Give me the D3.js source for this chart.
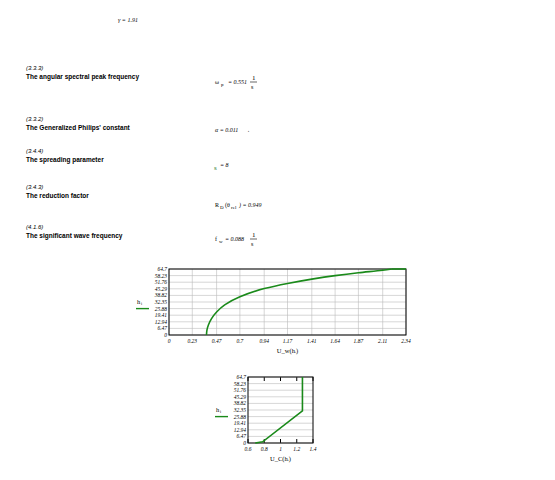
<!DOCTYPE html><html><head><meta charset="utf-8"><script src="https://cdn.jsdelivr.net/npm/d3@7"></script>
<style>body{margin:0;background:#fff}</style></head><body><svg id="s" width="555" height="480"></svg>
<script>
const yTicks=[0,6.47,12.94,19.41,25.88,32.35,38.82,45.29,51.76,58.23,64.7];
const x1Ticks=[0,0.23,0.47,0.7,0.94,1.17,1.41,1.64,1.87,2.11,2.34];
const curve1U=[0.37,0.375,0.39,0.42,0.47,0.55,0.7,0.94,1.17,1.41,1.64,1.87,2.11,2.2,2.34];
const curve1H=[0,5,10,16,22.5,29.5,37.5,45.5,50.5,54.8,58.2,61,63.5,64.7,64.7];
const x2Ticks=[0.6,0.8,1,1.2,1.4];
const x2Labels=["0.6","0.8","1","1.2","1.4"];
const curve2U=[0.69,0.78,1.27,1.27];
const curve2H=[0,1.2,31.5,64.7];
const svg=d3.select("#s");
const serif="Liberation Serif,serif", sans="Liberation Sans,Arial,sans-serif";
function t(x,y,s,o){const e=svg.append("text").attr("x",x).attr("y",y).text(s).attr("font-family",o&&o.f||serif).attr("font-size",o&&o.s||7).attr("fill","#000");if(o&&o.i)e.attr("font-style","italic");if(o&&o.b)e.attr("font-weight","bold");return e;}
t(118,22,"γ = 1.91",{s:6,i:1});
const items=[[70,"(3.3.3)","The angular spectral peak frequency"],[121,"(3.3.2)","The Generalized Philips' constant"],[153,"(3.4.4)","The spreading parameter"],[189,"(3.4.3)","The reduction factor"],[229,"(4.1.6)","The significant wave frequency"]];
items.forEach(d=>{t(26,d[0],d[1],{s:6,i:1,f:sans});t(26,d[0]+9,d[2],{s:6.5,b:1,f:sans});});
t(215,84,"ω",{s:6});t(221,86,"p",{s:5});t(228,84,"= 0.551",{s:6,i:1});t(252,80,"1",{s:7});svg.append("line").attr("x1",250).attr("x2",257).attr("y1",82).attr("y2",82).attr("stroke","#000").attr("stroke-width",0.6);t(251,89,"s",{s:6});
t(215,132,"α = 0.011",{s:6,i:1});t(248,132,"▪",{s:3});
t(214,170,"s",{s:7}).attr("fill","#2a7a2a");t(220,167,"= 8",{s:6,i:1});
t(215,207,"R",{s:6});t(220,209,"D",{s:5});t(225,207,"(θ",{s:6});t(231,209,"rel",{s:5});t(239,207,") = 0.949",{s:6,i:1});
t(215,241,"f",{s:6});t(219,243,"w",{s:5});t(225,241,"= 0.088",{s:6,i:1});t(252,237,"1",{s:7});svg.append("line").attr("x1",250).attr("x2",257).attr("y1",239).attr("y2",239).attr("stroke","#000").attr("stroke-width",0.6);t(251,246,"s",{s:6});
function chart(x0,x1,y0,y1,xd,xt,xl,U,H,xlab,grid,smoothN){
 const x=d3.scaleLinear().domain(xd).range([x0,x1]),y=d3.scaleLinear().domain([0,64.7]).range([y1,y0]);
 const g=svg.append("g");
 if(grid){xt.forEach(v=>g.append("line").attr("x1",x(v)).attr("x2",x(v)).attr("y1",y0).attr("y2",y1).attr("stroke","#bbb").attr("stroke-width",0.6));}
 else{xt.forEach(v=>{g.append("line").attr("x1",x(v)).attr("x2",x(v)).attr("y1",y1).attr("y2",y1-4).attr("stroke","#000");g.append("line").attr("x1",x(v)).attr("x2",x(v)).attr("y1",y0).attr("y2",y0+4).attr("stroke","#000");});}
 yTicks.forEach(v=>g.append("line").attr("x1",x0).attr("x2",x1).attr("y1",y(v)).attr("y2",y(v)).attr("stroke","#bbb").attr("stroke-width",0.6));
 g.append("rect").attr("x",x0).attr("y",y0).attr("width",x1-x0).attr("height",y1-y0).attr("fill","none").attr("stroke","#000").attr("stroke-width",1);
 yTicks.forEach(v=>t(x0-2,y(v)+2,String(v),{s:5.5,i:1}).attr("text-anchor","end"));
 xt.forEach((v,i)=>t(x(v),y1+8,xl[i],{s:5.5,i:1}).attr("text-anchor","middle"));
 const pts=U.map((u,i)=>[u,H[i]]);
 const segs=smoothN?[[pts.slice(0,smoothN),true],[pts.slice(smoothN-1),false]]:[[pts,false]];
 segs.forEach(([p,sm])=>{const ln=d3.line().x(d=>x(d[0])).y(d=>y(d[1]));if(sm)ln.curve(d3.curveMonotoneY);
 g.append("path").datum(p).attr("d",ln).attr("fill","none").attr("stroke","#1a8a1a").attr("stroke-width",1.6);});
 t((x0+x1)/2,y1+18,xlab,{s:6.5}).attr("text-anchor","middle");
 const ly=y(25.88);
 t(x0-32,ly-5,"h",{s:6.5});t(x0-28,ly-4,"i",{s:4});
 g.append("line").attr("x1",x0-33).attr("x2",x0-20).attr("y1",ly).attr("y2",ly).attr("stroke","#1a8a1a").attr("stroke-width",1.4);
}
chart(169,406,269,335,[0,2.34],x1Ticks,x1Ticks.map(String),curve1U,curve1H,"U_w(h\u1d62)",true,14);
chart(248,313,377,443,[0.6,1.4],x2Ticks,x2Labels,curve2U,curve2H,"U_C(h\u1d62)",false,0);
</script></body></html>
